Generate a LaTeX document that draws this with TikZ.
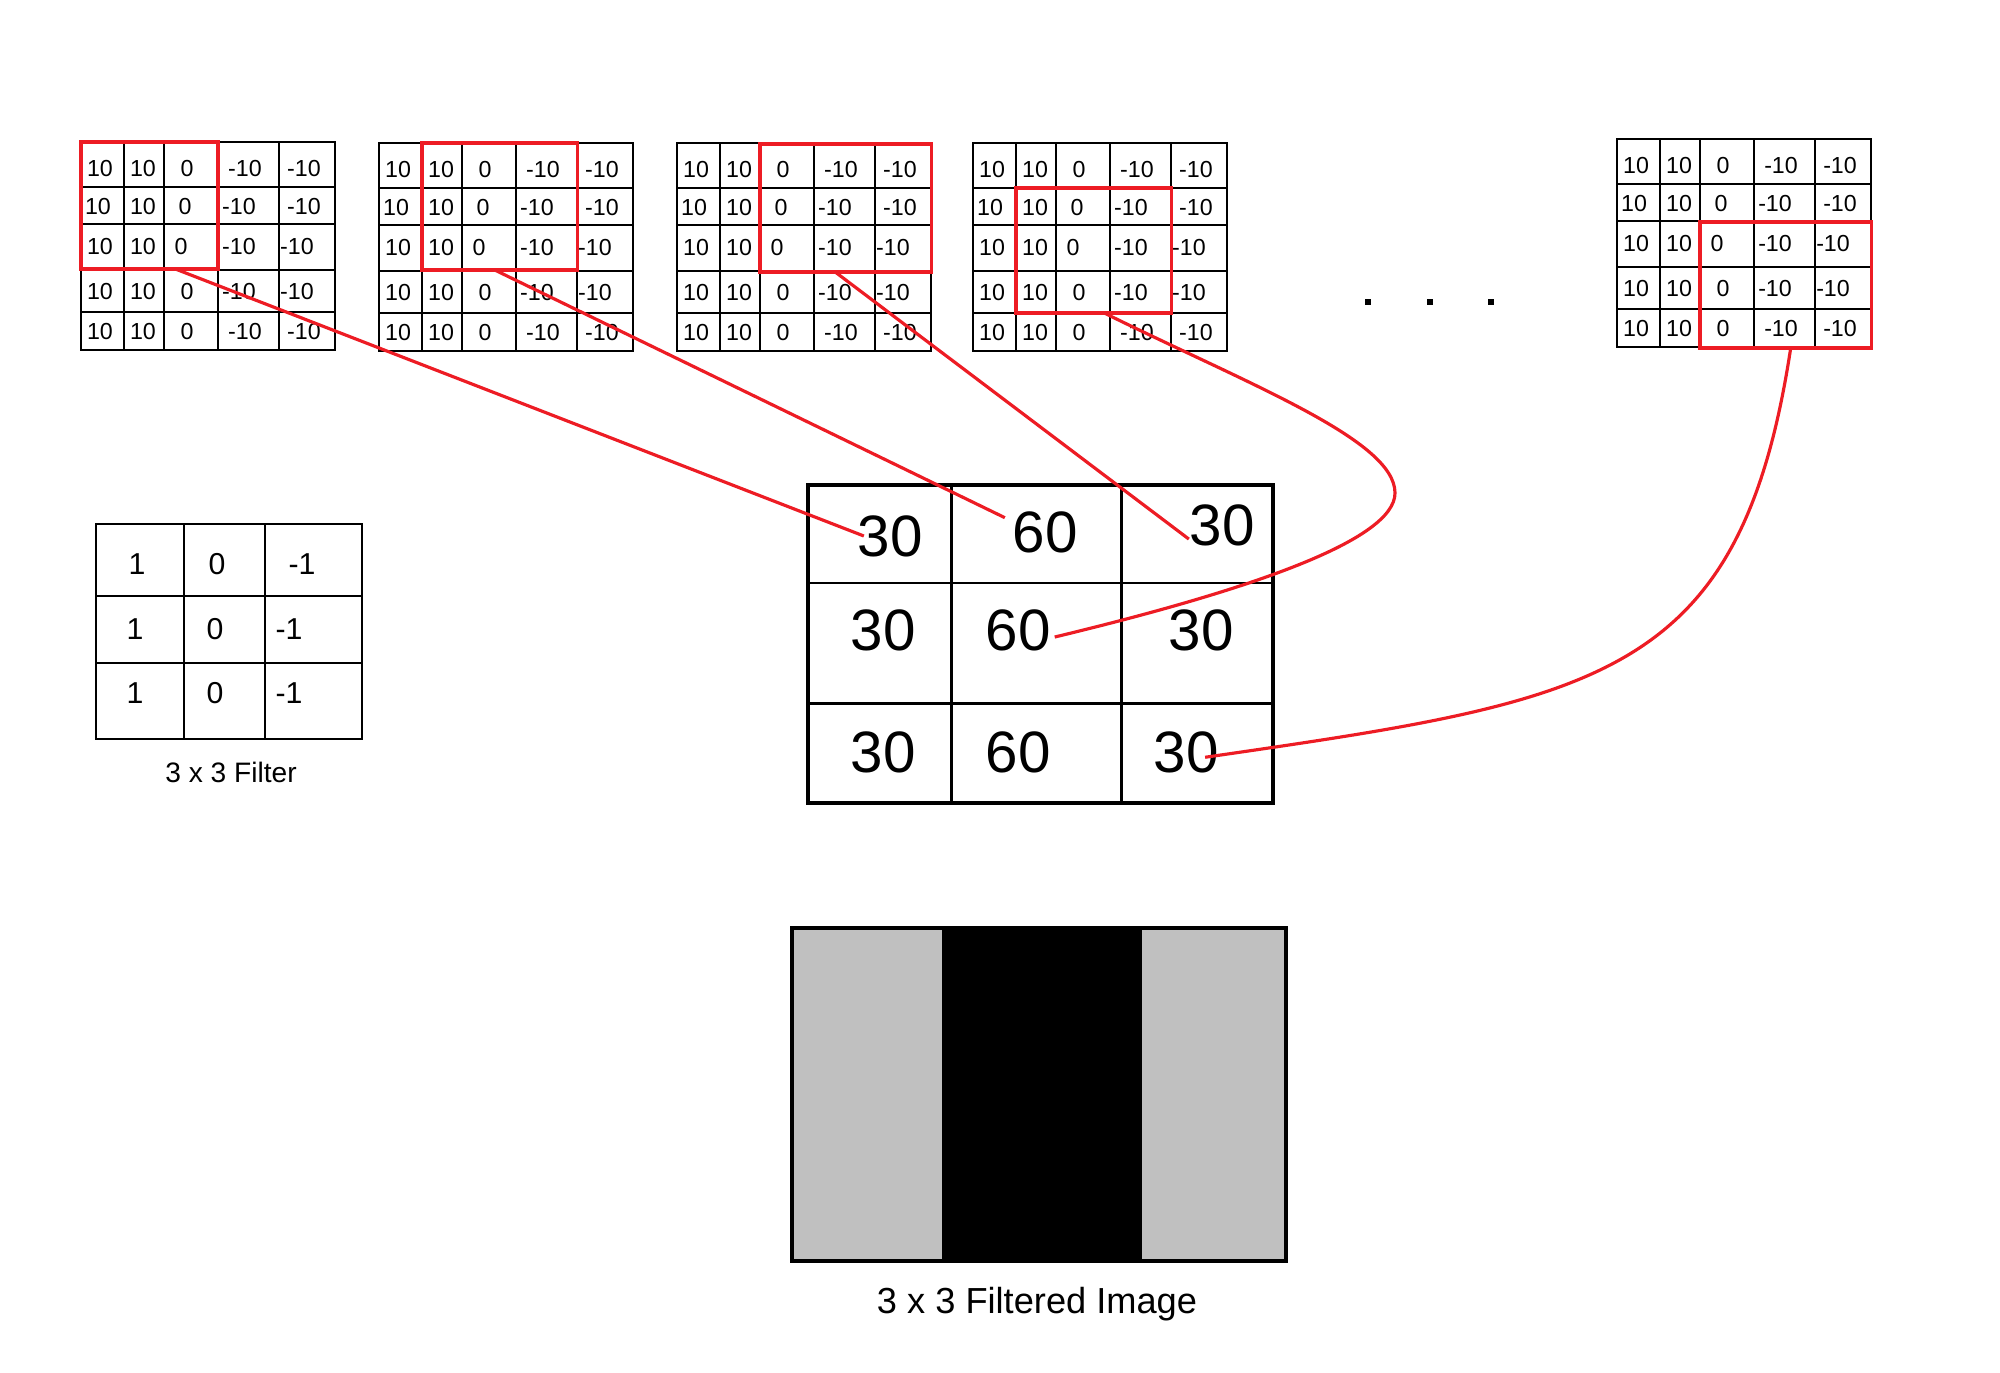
\documentclass[tikz,border=0pt]{standalone}
\usepackage{fontspec}
\setmainfont{Liberation Sans}
\usetikzlibrary{calc}
\definecolor{winred}{RGB}{237,28,36}
\definecolor{imggray}{RGB}{192,192,192}
\tikzstyle{gridline} = [
	draw,
	line width = 0.5pt
	]
\tikzstyle{num} = [
	inner sep = 0pt,
	font = \fontsize{6.6}{8}\selectfont
	]
\tikzstyle{window} = [
	draw = winred,
	line width = 0.9pt,
	inner sep = 0pt, outer sep = 0pt,
	anchor = north west
	]
\tikzstyle{conv} = [
	draw = winred,
	line width = 0.9pt
	]
\tikzstyle{kline} = [
	draw,
	line width = 0.65pt
	]
\tikzstyle{kern} = [
	inner sep = 0pt,
	font = \fontsize{8.6}{10}\selectfont
	]
\tikzstyle{res} = [
	inner sep = 0pt,
	font = \fontsize{16.6}{20}\selectfont
	]
\tikzstyle{capt} = [
	inner sep = 0pt,
	font = \fontsize{8}{10}\selectfont
	]
\tikzstyle{dotmark} = [
	fill,
	inner sep = 0pt,
	minimum size = 0.06cm
	]

\begin{document}
\begin{tikzpicture}[x=0.01cm, y=-0.01cm]
	\useasboundingbox (0,0) rectangle (2000,1373);
	% input image, five positions of the window
	\foreach \mx/\my [count=\m] in {81/142,379/143,677/143,973/143,1617/139} {
		\draw[gridline] (\mx,\my) rectangle ++(254,208);
		\foreach \cx in {43,83,137,198}
			\draw[gridline] (\mx+\cx,\my) -- ++(0,208);
		\foreach \ry in {45,82,128,170}
			\draw[gridline] (\mx,\my+\ry) -- ++(254,0);
		\foreach \ty/\xa/\xb/\xc/\xd/\xe [count=\r] in {27/19/62/106/164/223,65/17/62/104/158/223,105/19/62/100/158/216,150/19/62/106/158/216,190/19/62/106/164/223} {
			\node[num] (m\m-\r-1) at (\mx+\xa,\my+\ty) {10};
			\node[num] (m\m-\r-2) at (\mx+\xb,\my+\ty) {10};
			\node[num] (m\m-\r-3) at (\mx+\xc,\my+\ty) {0};
			\node[num] (m\m-\r-4) at (\mx+\xd,\my+\ty) {-10};
			\node[num] (m\m-\r-5) at (\mx+\xe,\my+\ty) {-10};
		}
	}
	\node[window, minimum width=1.37cm, minimum height=1.27cm] (w1) at (81,142) {};
	\node[window, minimum width=1.55cm, minimum height=1.27cm] (w2) at (422,143) {};
	\node[window, minimum width=1.71cm, minimum height=1.28cm] (w3) at (760,144) {};
	\node[window, minimum width=1.55cm, minimum height=1.25cm] (w4) at (1016,188) {};
	\node[window, minimum width=1.71cm, minimum height=1.26cm] (w5) at (1700,222) {};
	\node[dotmark] (d1) at (1368,302) {};
	\node[dotmark] (d2) at (1430,302) {};
	\node[dotmark] (d3) at (1491,302) {};

	% filter
	\draw[kline] (96,524) rectangle (362,739);
	\foreach \cx in {184,265} \draw[kline] (\cx,524) -- (\cx,739);
	\foreach \ry in {596,663} \draw[kline] (96,\ry) -- (362,\ry);
	\node[kern] (k11) at (137,564) {1};
	\node[kern] (k12) at (217,564) {0};
	\node[kern] (k13) at (302,564) {-1};
	\node[kern] (k21) at (135,629) {1};
	\node[kern] (k22) at (215,629) {0};
	\node[kern] (k23) at (289,629) {-1};
	\node[kern] (k31) at (135,693) {1};
	\node[kern] (k32) at (215,693) {0};
	\node[kern] (k33) at (289,693) {-1};
	\node[capt] (kcap) at (231,772) {3 x 3 Filter};

	% result
	\draw[line width=1.15pt] (808,485) rectangle (1273,803);
	\foreach \cx in {951,1121} \draw[line width=0.85pt] (\cx,485) -- (\cx,803);
	\foreach \ry in {583,703} \draw[line width=0.85pt] (808,\ry) -- (1273,\ry);
	\node[res] (r11) at (890,536) {30};
	\node[res] (r12) at (1045,532) {60};
	\node[res] (r13) at (1222,525) {30};
	\node[res] (r21) at (883,630) {30};
	\node[res] (r22) at (1018,630) {60};
	\node[res] (r23) at (1201,630) {30};
	\node[res] (r31) at (883,752) {30};
	\node[res] (r32) at (1018,752) {60};
	\node[res] (r33) at (1186,752) {30};

	% filtered image
	\fill[black] (790,926) rectangle (1288,1263);
	\fill[imggray] (794,930) rectangle (942,1259);
	\fill[imggray] (1142,930) rectangle (1284,1259);
	\node[inner sep=0pt, font=\fontsize{10.3}{12}\selectfont] (icap) at (1037,1304) {3 x 3 Filtered Image};

	% window -> output value
	\draw[conv] ($(w1.south west)!.69!(w1.south east)$) -- ([xshift=2pt]r11.west);
	\draw[conv] ($(w2.south west)!.47!(w2.south east)$) -- ([shift={(-2pt,-2pt)}]r12.north west);
	\draw[conv] ($(w3.south west)!.44!(w3.south east)$) -- ([yshift=-4pt]r13.west);
	\coordinate (bend) at (1395,493);
	\draw[conv] ($(w4.south west)!.57!(w4.south east)$) .. controls (1250,385) and (1395,440) .. (bend) .. controls (1395,540) and (1250,590) .. ([shift={(1pt,-2pt)}]r22.east);
	\draw[conv] ($(w5.south west)!.53!(w5.south east)$) .. controls (1740,680) and (1600,700) .. ([shift={(-4pt,-1.5pt)}]r33.east);
\end{tikzpicture}
\end{document}
